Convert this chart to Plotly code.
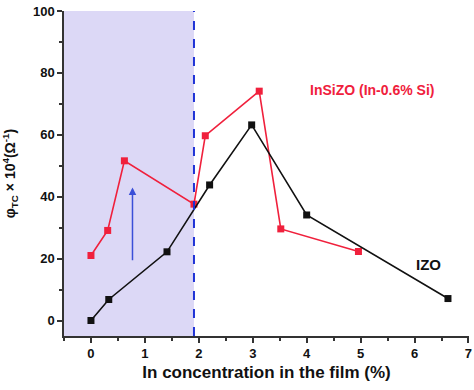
import plotly.graph_objects as go

# Data
izo_x = [0, 0.33, 1.41, 2.2, 2.98, 4.0, 6.62]
izo_y = [0, 6.8, 22.2, 43.8, 63.2, 34.1, 7.1]
insizo_x = [0, 0.31, 0.62, 1.91, 2.12, 3.12, 3.52, 4.96]
insizo_y = [21, 29.1, 51.6, 37.6, 59.7, 74.1, 29.6, 22.3]
shade_x = [-0.5, 1.91]
shade_y = [-5, 100]
arrow_x = 0.77
arrow_y = [19, 43]
x_ticks = [0, 1, 2, 3, 4, 5, 6, 7]
y_ticks = [0, 20, 40, 60, 80, 100]

fig = go.Figure()

fig.add_shape(type="rect", x0=shade_x[0], x1=shade_x[1], y0=shade_y[0], y1=shade_y[1],
              fillcolor="#dcd8f6", line_width=0, layer="below")
fig.add_shape(type="line", x0=shade_x[1], x1=shade_x[1], y0=shade_y[0], y1=shade_y[1],
              line=dict(color="#1f33d6", width=2, dash="dash"), layer="above")

fig.add_trace(go.Scatter(x=insizo_x, y=insizo_y, mode="lines+markers",
                         line=dict(color="#f0203c", width=1.6),
                         marker=dict(symbol="square", size=7, color="#f0203c"),
                         showlegend=False))
fig.add_trace(go.Scatter(x=izo_x, y=izo_y, mode="lines+markers",
                         line=dict(color="#111111", width=1.6),
                         marker=dict(symbol="square", size=7, color="#111111"),
                         showlegend=False))

fig.add_annotation(x=arrow_x, y=arrow_y[1], ax=arrow_x, ay=arrow_y[0],
                   xref="x", yref="y", axref="x", ayref="y",
                   showarrow=True, arrowhead=2, arrowsize=1, arrowwidth=1.5,
                   arrowcolor="#3a4fd8", text="")

fig.add_annotation(x=5.22, y=74.5, xref="x", yref="y", showarrow=False,
                   text="<b>InSiZO (In-0.6% Si)</b>",
                   font=dict(color="#f0203c", size=14, family="Liberation Sans"))
fig.add_annotation(x=6.25, y=18, xref="x", yref="y", showarrow=False,
                   text="<b>IZO</b>",
                   font=dict(color="#111111", size=15, family="Liberation Sans"))

axis_common = dict(showline=True, linecolor="#333333", linewidth=1.5,
                   ticks="outside", tickcolor="#333333", ticklen=5, tickwidth=1.5,
                   showgrid=False, zeroline=False, mirror=False,
                   automargin=False, ticklabeloverflow="allow",
                   tickfont=dict(size=13, family="Liberation Sans", color="#111111"))

fig.update_layout(
    width=474, height=390,
    margin=dict(l=64, r=5, t=11, b=54),
    plot_bgcolor="white", paper_bgcolor="white",
    font=dict(family="Liberation Sans", color="#111111"),
    xaxis=dict(range=[-0.5, 7.01], tickvals=x_ticks,
               ticktext=["<b>%d</b>" % v for v in x_ticks],
               minor=dict(dtick=0.5, ticks="outside", ticklen=3, tickcolor="#333333"),
               title=dict(text="<b>In concentration in the film (%)</b>",
                          font=dict(size=17), standoff=6),
               **axis_common),
    yaxis=dict(range=[-5, 100], tickvals=y_ticks,
               ticktext=["<b>%d</b>" % v for v in y_ticks],
               minor=dict(dtick=10, ticks="outside", ticklen=3, tickcolor="#333333"),
               title=dict(text="<b>φ<sub>TC</sub> × 10<sup>4</sup>(Ω<sup>-1</sup>)</b>",
                          font=dict(size=14), standoff=14),
               **axis_common),
)

fig.write_html("out.html", config={"displayModeBar": False},
               post_script="document.body.style.margin='0';")
